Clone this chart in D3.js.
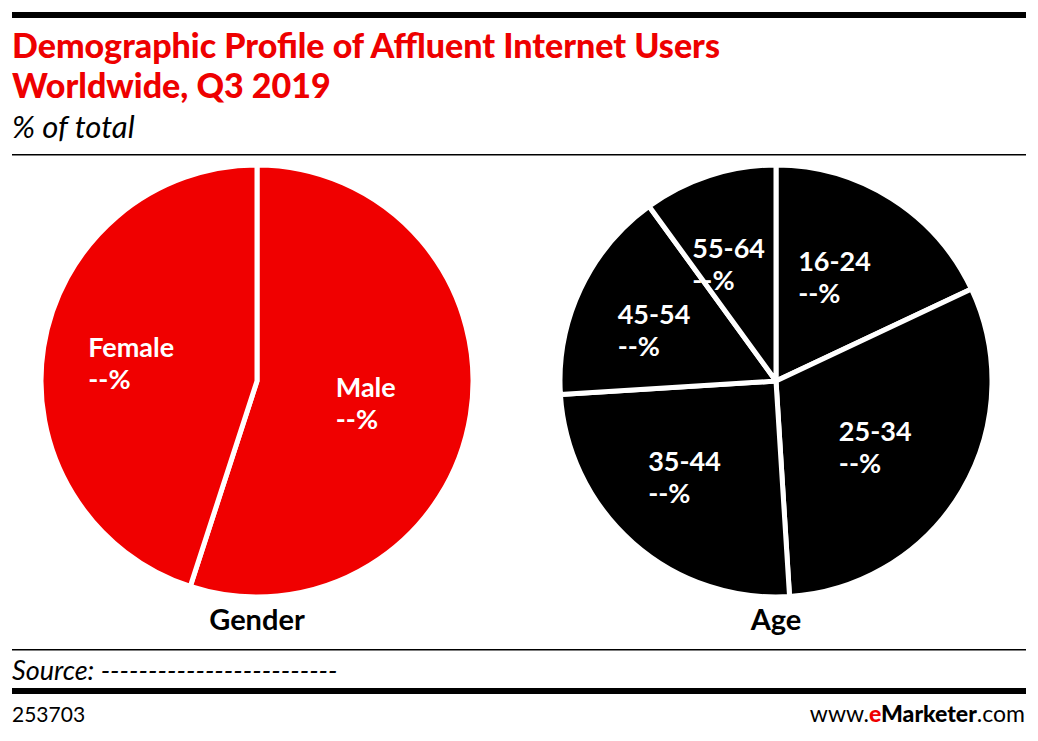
<!DOCTYPE html>
<html>
<head>
<meta charset="utf-8">
<script src="https://cdn.jsdelivr.net/npm/d3@7"></script>
<style>
  body { margin: 0; background: #fff; }
  text { font-family: Lato, "Liberation Sans", sans-serif; }
</style>
</head>
<body>
<svg width="1038" height="741"></svg>
<script>
// Chart data
const genderLabels = ["Male", "Female"];
const genderValues = [55, 45];
const ageLabels = ["16-24", "25-34", "35-44", "45-54", "55-64"];
const ageValues = [18, 31, 25, 16, 10];

let svg = d3.select("svg");

// header
svg.append("rect").attr("x", 12).attr("y", 12).attr("width", 1014).attr("height", 6).attr("fill", "#000");
svg.append("text").attr("x", 12).attr("y", 58).attr("fill", "#e00").attr("font-size", 34).attr("font-weight", 900)
    .text("Demographic Profile of Affluent Internet Users");
svg.append("text").attr("x", 12).attr("y", 98).attr("fill", "#e00").attr("font-size", 34).attr("font-weight", 900)
    .text("Worldwide, Q3 2019");
svg.append("text").attr("x", 12).attr("y", 138).attr("font-size", 31).attr("font-style", "italic")
    .text("% of total");
svg.append("rect").attr("x", 12).attr("y", 154).attr("width", 1014).attr("height", 1.5).attr("fill", "#000");

const R = 216;
let pie = d3.pie().sort(null).value(d => d);
let arc = d3.arc().innerRadius(0).outerRadius(R);
let labelArc = d3.arc().innerRadius(R * 0.58).outerRadius(R * 0.58);

function drawPie(cx, cy, labels, values, color, title)
{
    let g = svg.append("g").attr("transform", `translate(${cx}, ${cy})`);
    let arcs = g.selectAll("g.slice").data(pie(values)).enter().append("g").attr("class", "slice");

    arcs.append("path")
        .attr("d", arc)
        .attr("fill", color)
        .attr("stroke", "#fff")
        .attr("stroke-width", 5)
        .attr("stroke-linejoin", "round");

    let t = arcs.append("text")
        .attr("transform", d => `translate(${labelArc.centroid(d)})`)
        .attr("fill", "#fff")
        .attr("font-size", 27)
        .attr("font-weight", 700)
        .attr("text-anchor", "start");
    t.append("tspan").attr("x", -45).attr("dy", -4).text((d, i) => labels[i]);
    t.append("tspan").attr("x", -45).attr("dy", 32).text("--%");

    svg.append("text").attr("x", cx).attr("y", 630).attr("text-anchor", "middle")
        .attr("font-size", 29).attr("font-weight", 700).text(title);
}

drawPie(257, 381, genderLabels, genderValues, "#f00000", "Gender");
drawPie(776, 381, ageLabels, ageValues, "#000", "Age");

// footer
svg.append("rect").attr("x", 12).attr("y", 649).attr("width", 1014).attr("height", 1.5).attr("fill", "#000");
svg.append("text").attr("x", 12).attr("y", 680).attr("font-size", 27).attr("font-style", "italic")
    .text("Source: -------------------------");
svg.append("rect").attr("x", 12).attr("y", 688).attr("width", 1014).attr("height", 6).attr("fill", "#000");
svg.append("text").attr("x", 12).attr("y", 722).attr("font-size", 21).text("253703");
let brand = svg.append("text").attr("x", 1025).attr("y", 722).attr("font-size", 23).attr("text-anchor", "end");
brand.append("tspan").text("www.");
brand.append("tspan").attr("fill", "#e00").attr("font-weight", 900).text("e");
brand.append("tspan").attr("font-weight", 900).text("Marketer");
brand.append("tspan").text(".com");
</script>
</body>
</html>
